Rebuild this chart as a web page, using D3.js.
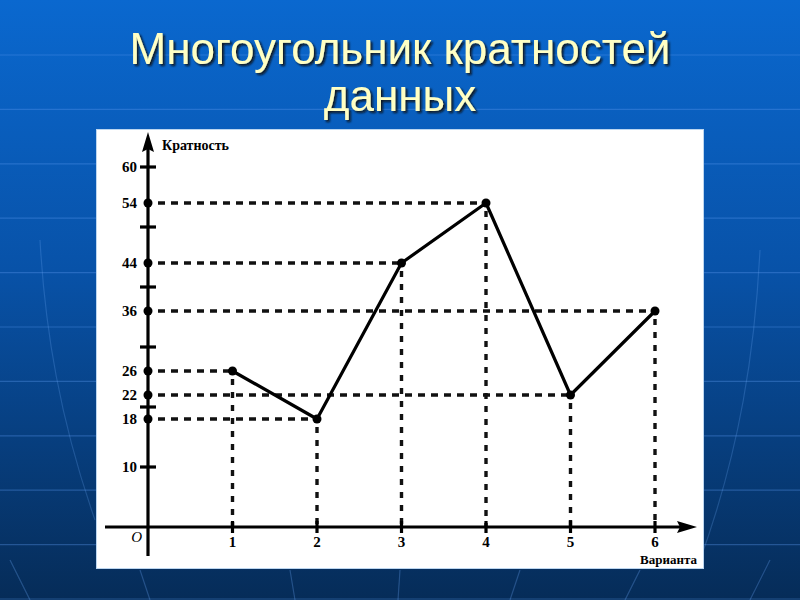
<!DOCTYPE html>
<html><head><meta charset="utf-8">
<script src="https://cdn.jsdelivr.net/npm/d3@7"></script>
<style>html,body{margin:0;padding:0;background:#073a74;}svg{display:block;}</style>
</head><body>
<svg id="c" width="800" height="600"></svg>
<script>
// ---- data ----
const variants = [1, 2, 3, 4, 5, 6];
const multiplicities = [26, 18, 44, 54, 22, 36];
const yLabels = [60, 54, 44, 36, 26, 22, 18, 10];
const yTicks = [10, 20, 30, 40, 50, 60];
const titleLines = ["Многоугольник кратностей", "данных"];
const yAxisTitle = "Кратность";
const xAxisTitle = "Варианта";
const figCaption = "Рис. 56";

const svg = d3.select("#c");
const defs = svg.append("defs");
const g = defs.append("linearGradient").attr("id","bg").attr("x1",0).attr("y1",0).attr("x2",0).attr("y2",1);
g.append("stop").attr("offset","0%").attr("stop-color","#0a68cf");
g.append("stop").attr("offset","45%").attr("stop-color","#0852a8");
g.append("stop").attr("offset","100%").attr("stop-color","#062c58");
svg.append("rect").attr("width",800).attr("height",600).attr("fill","url(#bg)");

const sh = defs.append("filter").attr("id","sh").attr("x","-10%").attr("y","-30%").attr("width","120%").attr("height","160%");
sh.append("feDropShadow").attr("dx",2).attr("dy",2).attr("stdDeviation",0.8)
  .attr("flood-color","#101010").attr("flood-opacity",0.9);

// faint background grid
const gridY = d3.range(55, 600, 54.4);
svg.append("g").selectAll("line").data(gridY).join("line")
  .attr("x1",0).attr("x2",800).attr("y1",d=>d).attr("y2",d=>d)
  .attr("stroke","#5f9cf0").attr("stroke-opacity",0.35).attr("stroke-width",1.2);
svg.append("path").attr("d","M40,240 C45,330 60,420 95,520 M760,250 C755,350 740,450 700,560")
  .attr("fill","none").attr("stroke","#6aa6f5").attr("stroke-opacity",0.25).attr("stroke-width",1.2);
svg.append("g").selectAll("line").data([[10,560,30,600],[140,570,150,600],[290,570,295,600],[400,570,398,600],[520,570,510,600],[640,570,625,600],[770,560,750,600]]).join("line")
  .attr("x1",d=>d[0]).attr("y1",d=>d[1]).attr("x2",d=>d[2]).attr("y2",d=>d[3])
  .attr("stroke","#6aa6f5").attr("stroke-opacity",0.3).attr("stroke-width",1.2);

// title
const title = svg.append("g").attr("font-family","'Liberation Sans Narrow','Arial Narrow','Liberation Sans',sans-serif")
  .attr("font-size",44).attr("text-anchor","middle").attr("filter","url(#sh)");
titleLines.forEach((t,i)=>{
  title.append("text").attr("x",400).attr("y",64+i*47).attr("fill","#ffffc4").text(t);
});

// panel
const panel = {x:97, y:130, w:606, h:438};
defs.append("clipPath").attr("id","pc").append("rect").attr("x",panel.x).attr("y",panel.y).attr("width",panel.w).attr("height",panel.h);
svg.append("rect").attr("x",panel.x-1).attr("y",panel.y-1).attr("width",panel.w+2).attr("height",panel.h+2).attr("fill","#bcd6f0");
svg.append("rect").attr("x",panel.x).attr("y",panel.y).attr("width",panel.w).attr("height",panel.h).attr("fill","#ffffff");
const P = svg.append("g").attr("clip-path","url(#pc)");

const x = d3.scaleLinear().domain([0,6]).range([148,655]);
const y = d3.scaleLinear().domain([0,60]).range([527,167]);
const serif = "'Liberation Serif','DejaVu Serif',serif";

const pts = variants.map((v,i)=>({v, m: multiplicities[i]}));

// dashed guides
const dash = P.append("g").attr("stroke","#111").attr("stroke-width",3.4).attr("stroke-dasharray","7,6");
dash.selectAll("line.h").data(pts).join("line").attr("class","h")
  .attr("x1",x(0)+10).attr("x2",d=>x(d.v)).attr("y1",d=>y(d.m)).attr("y2",d=>y(d.m));
dash.selectAll("line.v").data(pts).join("line").attr("class","v")
  .attr("stroke-dasharray","6,7")
  .attr("x1",d=>x(d.v)).attr("x2",d=>x(d.v)).attr("y1",d=>y(d.m)+8).attr("y2",y(0));

// axes
const ax = P.append("g").attr("stroke","#000").attr("stroke-width",3.2);
ax.append("line").attr("x1",105).attr("x2",x(6)+30).attr("y1",y(0)).attr("y2",y(0));
ax.append("line").attr("x1",x(0)).attr("x2",x(0)).attr("y1",556).attr("y2",y(60)-22);
P.append("path").attr("d",`M${x(6)+42},${y(0)} l-20,-6 l3,6 l-3,6 z`).attr("fill","#000");
P.append("path").attr("d",`M${x(0)},${y(60)-35} l-6,20 l6,-3 l6,3 z`).attr("fill","#000");

// y ticks
ax.selectAll("line.yt").data(yTicks).join("line").attr("class","yt")
  .attr("x1",x(0)-8).attr("x2",x(0)+8).attr("y1",d=>y(d)).attr("y2",d=>y(d));
// x ticks
ax.selectAll("line.xt").data(variants).join("line").attr("class","xt")
  .attr("x1",d=>x(d)).attr("x2",d=>x(d)).attr("y1",y(0)-6).attr("y2",y(0)+6);

// y axis dots
P.selectAll("circle.yd").data(multiplicities).join("circle").attr("class","yd")
  .attr("cx",x(0)).attr("cy",d=>y(d)).attr("r",4.5).attr("fill","#000");

// polygon
P.append("path").datum(pts).attr("fill","none").attr("stroke","#000").attr("stroke-width",3.2)
  .attr("stroke-linejoin","round")
  .attr("d",d3.line().x(d=>x(d.v)).y(d=>y(d.m)));
P.selectAll("circle.pt").data(pts).join("circle").attr("class","pt")
  .attr("cx",d=>x(d.v)).attr("cy",d=>y(d.m)).attr("r",4.5).attr("fill","#000");

// labels
const lab = P.append("g").attr("font-family",serif).attr("font-weight","bold").attr("font-size",15).attr("fill","#000");
lab.selectAll("text.yl").data(yLabels).join("text").attr("class","yl")
  .attr("x",x(0)-11).attr("y",d=>y(d)+5).attr("text-anchor","end").text(d=>d);
lab.selectAll("text.xl").data(variants).join("text").attr("class","xl")
  .attr("x",d=>x(d)).attr("y",y(0)+20).attr("text-anchor","middle").text(d=>d);
lab.append("text").attr("x",x(0)-6).attr("y",y(0)+15).attr("text-anchor","end")
  .attr("font-style","italic").attr("font-weight","normal").attr("font-size",15).text("O");
lab.append("text").attr("x",162).attr("y",150).attr("font-size",14).text(yAxisTitle);
lab.append("text").attr("x",697).attr("y",564).attr("text-anchor","end").attr("font-size",13).text(xAxisTitle);
lab.append("text").attr("x",400).attr("y",579).attr("text-anchor","middle").attr("font-size",14).text(figCaption);
</script>
</body></html>
